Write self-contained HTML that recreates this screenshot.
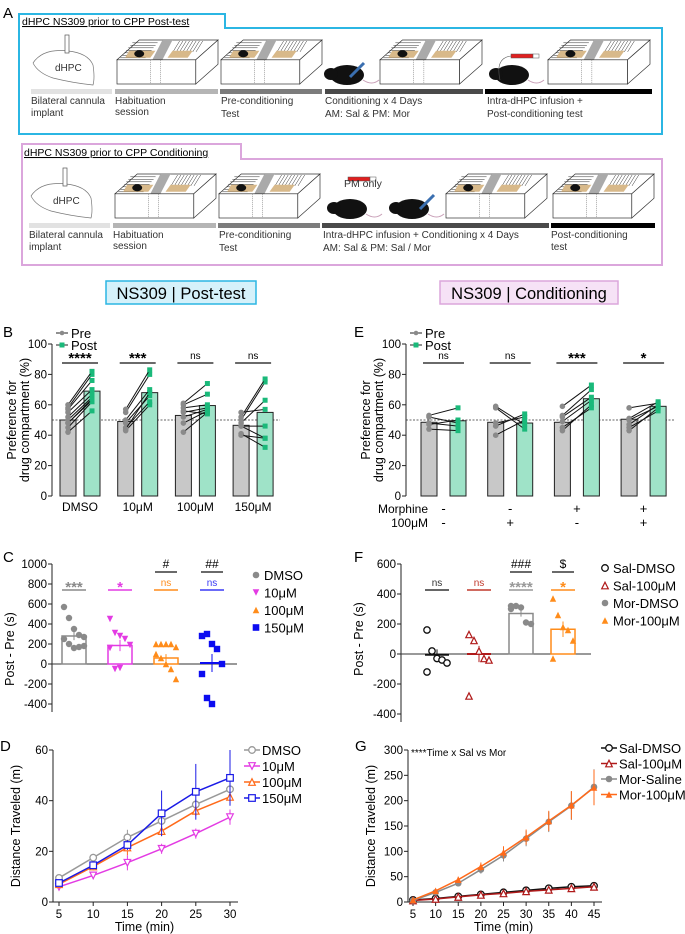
<!DOCTYPE html>
<html><head><meta charset="utf-8"><style>
html,body{margin:0;padding:0;background:#fff;}
svg{display:block;font-family:"Liberation Sans",Arial,sans-serif;}
</style></head><body>
<svg id="fig" width="685" height="934" viewBox="0 0 685 934" xmlns="http://www.w3.org/2000/svg">
<g>
<text x="3" y="18" font-size="15">A</text>
<path d="M19,28 V14 H225 V28 H662 V134 H19 Z" fill="none" stroke="#2bb6e3" stroke-width="2"/>
<text x="22" y="25" font-size="10.5" text-decoration="underline">dHPC NS309 prior to CPP Post-test</text>
<path d="M22,159 V144 H241 V159 H662 V265 H22 Z" fill="none" stroke="#dba6dc" stroke-width="2"/>
<text x="24" y="156" font-size="10.5" text-decoration="underline">dHPC NS309 prior to CPP Conditioning</text>
<g id="schem"></g>
<g font-size="10" fill="#333">
<text x="31" y="104">Bilateral cannula</text><text x="31" y="116">implant</text>
<text x="115" y="104">Habituation</text><text x="115" y="115">session</text>
<text x="221" y="104">Pre-conditioning</text><text x="221" y="117">Test</text>
<text x="325" y="104">Conditioning x 4 Days</text><text x="325" y="117">AM: Sal &amp; PM: Mor</text>
<text x="487" y="104">Intra-dHPC infusion +</text><text x="487" y="117">Post-conditioning test</text>
<text x="29" y="238">Bilateral cannula</text><text x="29" y="250">implant</text>
<text x="113" y="238">Habituation</text><text x="113" y="249">session</text>
<text x="219" y="238">Pre-conditioning</text><text x="219" y="251">Test</text>
<text x="323" y="238">Intra-dHPC infusion + Conditioning x 4 Days</text><text x="323" y="251">AM: Sal &amp; PM: Sal / Mor</text>
<text x="551" y="238">Post-conditioning</text><text x="551" y="250">test</text>
<text x="344" y="187" font-size="10.5">PM only</text>
</g>
</g>
<rect x="106" y="281" width="150" height="23" fill="#d5f1fa" stroke="#2bb6e3" stroke-width="1.5"/>
<text x="181" y="299" font-size="16.5" text-anchor="middle">NS309 | Post-test</text>
<rect x="440" y="281" width="178" height="23" fill="#f6e2f6" stroke="#dba6dc" stroke-width="1.5"/>
<text x="529" y="299" font-size="16.5" text-anchor="middle">NS309 | Conditioning</text>

<g id="charts"></g>
</svg>
<script>
const NS='http://www.w3.org/2000/svg';
function mk(tag,attrs,parent){const e=document.createElementNS(NS,tag);for(const k in attrs)e.setAttribute(k,attrs[k]);(parent||document.getElementById('charts')).appendChild(e);return e;}
function txt(x,y,s,size,anchor,parent,extra){const e=mk('text',Object.assign({x:x,y:y,'font-size':size,'text-anchor':anchor||'start'},extra||{}),parent);e.textContent=s;return e;}

/* ---------- Schematic ---------- */
const sch=document.getElementById('schem');
function bar(x1,x2,y,c){const e=mk('rect',{x:x1,y:y,width:x2-x1,height:5,fill:c},sch);

}
[[31,112,'#e2e2e2'],[115,218,'#b5b5b5'],[220,322,'#7c7c7c'],[325,483,'#4a4a4a'],[485,652,'#000']].forEach(b=>bar(b[0],b[1],89,b[2]));
[[29,110,'#e2e2e2'],[113,216,'#b5b5b5'],[218,320,'#7c7c7c'],[322,549,'#4a4a4a'],[551,655,'#000']].forEach(b=>bar(b[0],b[1],223,b[2]));
function cage(x,y,w,h,mouse){const g=mk('g',{},sch);


const d=h*0.45,s=w*0.22;
mk('polygon',{points:`${x},${y+d} ${x+s},${y} ${x+w},${y} ${x+w-s},${y+d}`,fill:'#fff',stroke:'#333','stroke-width':0.7},g);
for(let i=0;i<7;i++){mk('line',{x1:x+s*0.15+i*2,y1:y+d-2-i*2.5,x2:x+s*0.15+i*2+w*0.25,y2:y+d-2-i*2.5,stroke:'#333','stroke-width':0.5},g);}
for(let i=0;i<8;i++){const xx=x+w*0.62+i*3.3;mk('line',{x1:xx,y1:y+1,x2:xx-s*0.3,y2:y+d*0.6,stroke:'#333','stroke-width':0.5},g);}
mk('polygon',{points:`${x+w*0.45},${y} ${x+w*0.55},${y} ${x+w*0.45},${y+d} ${x+w*0.35},${y+d}`,fill:'#aaa'},g);
mk('polygon',{points:`${x+w*0.08},${y+d-2} ${x+w*0.12},${y+d-9} ${x+w*0.38},${y+d-9} ${x+w*0.33},${y+d-2}`,fill:'#d8b98a'},g);
mk('polygon',{points:`${x+w*0.5},${y+d-2} ${x+w*0.55},${y+d-9} ${x+w*0.75},${y+d-9} ${x+w*0.7},${y+d-2}`,fill:'#d8b98a'},g);
mk('rect',{x:x,y:y+d,width:w-s,height:h-d,fill:'#fff',stroke:'#333','stroke-width':0.7},g);
mk('polygon',{points:`${x+w-s},${y+d} ${x+w},${y} ${x+w},${y+h-d} ${x+w-s},${y+h}`,fill:'#fff',stroke:'#333','stroke-width':0.7},g);
mk('line',{x1:x+w*0.33,y1:y+d,x2:x+w*0.33,y2:y+h,stroke:'#555','stroke-width':0.5,'stroke-dasharray':'1,1'},g);
mk('line',{x1:x+w*0.43,y1:y+d,x2:x+w*0.43,y2:y+h,stroke:'#555','stroke-width':0.5,'stroke-dasharray':'1,1'},g);
if(mouse)mk('ellipse',{cx:x+w*0.22,cy:y+d-6,rx:5,ry:3.5,fill:'#111'},g);}
cage(117,40,101,44,true);cage(221,40,101,44,true);cage(380,40,102,44,true);cage(548,40,102,44,true);
cage(115,174,101,44,true);cage(219,174,101,44,true);cage(446,174,101,44,true);cage(553,174,101,44,true);
function brain(x,y){const g=mk('g',{},sch);


mk('path',{d:`M${x},${y+20} Q${x+10},${y+5} ${x+35},${y+8} Q${x+55},${y+10} ${x+60},${y+22} Q${x+62},${y+35} ${x+60},${y+42} Q${x+40},${y+40} ${x+20},${y+35} Q${x+5},${y+30} ${x},${y+20}`,fill:'none',stroke:'#777','stroke-width':0.7},g);
mk('rect',{x:x+32,y:y-8,width:4,height:18,fill:'#fff',stroke:'#555','stroke-width':0.7},g);
txt(x+22,y+28,'dHPC',10,'start',g,{fill:'#333'});}
brain(33,43);brain(31,176);
function mouse(x,y){const g=mk('g',{},sch);


mk('ellipse',{cx:x+20,cy:y+13,rx:17,ry:10,fill:'#111'},g);
mk('ellipse',{cx:x+4,cy:y+12,rx:7,ry:6,fill:'#111'},g);
mk('path',{d:`M${x+36},${y+18} Q${x+45},${y+24} ${x+52},${y+18}`,fill:'none',stroke:'#c9a0b8','stroke-width':1},g);}
mouse(327,62);mouse(492,62);mouse(330,196);mouse(392,196);
function syringe(x,y,red){const g=mk('g',{},sch);


if(red){mk('rect',{x:x,y:y,width:22,height:4,fill:'#e02020',stroke:'#555','stroke-width':0.5},g);mk('rect',{x:x+22,y:y,width:6,height:4,fill:'#fff',stroke:'#555','stroke-width':0.5},g);}
else{mk('line',{x1:x,y1:y+14,x2:x+14,y2:y,stroke:'#3a6fb0','stroke-width':3},g);}}
syringe(511,54,true);syringe(350,63,false);syringe(348,177,true);syringe(420,195,false);
mk('path',{d:'M511,56 Q495,58 500,80',fill:'none',stroke:'#555','stroke-width':0.6},sch);

/* ---------- Panel B data ---------- */
const bCats=['DMSO','10μM','100μM','150μM'];
const bPre=[50,49,53,46.5];
const bPost=[69,68,59.5,55];
const bPairs=[
 [[42,56],[45,62],[48,63],[50,65],[52,67],[55,70],[57,76],[58,80],[60,82],[48,64]],
 [[43,60],[45,62],[48,66],[55,80],[57,83],[44,68],[50,70]],
 [[42,55],[48,56],[52,57],[55,58],[58,60],[60,67],[61,74],[56,54]],
 [[40,38],[41,32],[46,46],[48,63],[50,75],[52,77],[55,57],[46,38]]];
const bSig=['****','***','ns','ns'];
/* ---------- Panel E data ---------- */
const eMorphine=['-','-','+','+'];
const eDrug=['-','+','-','+'];
const ePre=[48.5,48.5,48.5,50.5];
const ePost=[49.5,48,64,59];
const ePairs=[
 [[44,43],[47,50],[52,48],[53,58],[48,46]],
 [[40,50],[46,54],[58,44],[59,47],[48,52]],
 [[43,60],[45,58],[49,63],[52,65],[59,73],[53,70]],
 [[43,58],[47,60],[51,62],[58,61],[50,59],[45,56]]];
const eSig=['ns','ns','***','*'];
const prefTicks=[0,20,40,60,80,100];

function prefChart(o){
 const y=v=>496-v*1.52;
 const g=mk('g',{});
 
 
 txt(o.lx,337,o.label,15,'start',g);
 mk('line',{x1:o.ax,y1:y(100),x2:o.ax,y2:y(0),stroke:'#222','stroke-width':1},g);
 prefTicks.forEach(t=>{mk('line',{x1:o.ax-4,y1:y(t),x2:o.ax,y2:y(t),stroke:'#222'},g);
  const tl=txt(o.ax-5,y(t)+4,String(t),11.5,'end',g);
  
  });
 const yt=mk('text',{transform:`translate(${o.ax-36},420) rotate(-90)`,'font-size':12.5,'text-anchor':'middle'},g);
 
 
 yt.innerHTML='<tspan x="0" dy="0">Preference for</tspan><tspan x="0" dy="13">drug compartment (%)</tspan>';
 mk('line',{x1:o.ax,y1:y(50),x2:o.ax+o.span,y2:y(50),stroke:'#333','stroke-dasharray':'2,1.5','stroke-width':0.8},g);
 o.pre.forEach((v,i)=>{
  const px=o.x0+i*o.step, qx=px+o.gap;
  const b1=mk('rect',{x:px,y:y(v),width:16,height:y(0)-y(v),fill:'#c8c8c8',stroke:'#222','stroke-width':1},g);
  
  
  const b2=mk('rect',{x:qx,y:y(o.post[i]),width:16,height:y(0)-y(o.post[i]),fill:'#9fe3c8',stroke:'#222','stroke-width':1},g);
  
  
  o.pairs[i].forEach(p=>{
   mk('line',{x1:px+8,y1:y(p[0]),x2:qx+8,y2:y(p[1]),stroke:'#111','stroke-width':1},g);
   const c=mk('circle',{cx:px+8,cy:y(p[0]),r:2.8,fill:'#8a8a8a'},g);
   
   
   const s=mk('rect',{x:qx+5.5,y:y(p[1])-2.5,width:5,height:5,fill:'#1ab97a'},g);
   
   });
  mk('line',{x1:px+2,y1:363,x2:qx+14,y2:363,stroke:'#111','stroke-width':1.3},g);
  const sg=txt((px+qx+16)/2,o.sig[i]==='ns'?359:363,o.sig[i],o.sig[i]==='ns'?10:15,'middle',g,{'font-weight':'bold'});
  if(o.sig[i]==='ns')sg.setAttribute('font-weight','normal');
  
  
  if(o.cats){const xl=txt((px+qx+16)/2,511,o.cats[i],12,'middle',g);
   
   }
  else{const m=txt((px+qx+16)/2,513,o.m1[i],13,'middle',g);
   
   
   const d=txt((px+qx+16)/2,527,o.m2[i],13,'middle',g);
   
   }
 });
 const lg=mk('g',{},g);
 
 
 mk('line',{x1:o.ax+4,y1:333,x2:o.ax+16,y2:333,stroke:'#222'},lg);mk('circle',{cx:o.ax+10,cy:333,r:2.3,fill:'#8a8a8a'},lg);
 txt(o.ax+19,338,'Pre',13,'start',lg);
 mk('line',{x1:o.ax+4,y1:345,x2:o.ax+16,y2:345,stroke:'#222'},lg);mk('rect',{x:o.ax+7.5,y:342.5,width:5,height:5,fill:'#1ab97a'},lg);
 txt(o.ax+19,350,'Post',13,'start',lg);
}
prefChart({name:'panel-b-chart',label:'B',lx:3,ax:52,span:228,x0:60,step:57.7,gap:24,pre:bPre,post:bPost,pairs:bPairs,sig:bSig,cats:bCats});
prefChart({name:'panel-e-chart',label:'E',lx:354,ax:406,span:269,x0:421,step:66.7,gap:29,pre:ePre,post:ePost,pairs:ePairs,sig:eSig,m1:eMorphine,m2:eDrug});
{const g=document.getElementById('charts');txt(428,513,'Morphine',12,'end',g);txt(428,527,'100μM',12,'end',g);}

/* ---------- Panel C data ---------- */
const cGroups=['DMSO','10μM','100μM','150μM'];
const cMeans=[280,185,60,10];
const cPoints=[[570,460,350,290,270,250,200,160,170,180],[450,310,280,250,190,160,-50,-40],[200,200,200,200,170,100,60,0,-50,-150],[280,300,200,150,0,-100,-340,-400]];
const cSigTop=['','','#','##'];
const cSigBot=['***','*','ns','ns'];
const cTicks=[1000,800,600,400,200,0,-200,-400];
/* ---------- Panel F data ---------- */
const fGroups=['Sal-DMSO','Sal-100μM','Mor-DMSO','Mor-100μM'];
const fMeans=[-5,0,270,165];
const fPoints=[[160,20,-30,-40,-60,-120],[130,90,20,-30,-40,-280],[320,320,310,210,200,300],[370,260,180,160,90,-30]];
const fSigTop=['','','###','$'];
const fSigBot=['ns','ns','****','*'];
const fTicks=[600,400,200,0,-200,-400];

function marker(g,type,x,y,c,sz){let e;
 if(type==='circle')e=mk('circle',{cx:x,cy:y,r:sz,fill:c},g);
 else if(type==='ocircle')e=mk('circle',{cx:x,cy:y,r:sz,fill:'#fff',stroke:c,'stroke-width':1.3},g);
 else if(type==='down')e=mk('polygon',{points:`${x-sz},${y-sz} ${x+sz},${y-sz} ${x},${y+sz}`,fill:c},g);
 else if(type==='odown')e=mk('polygon',{points:`${x-sz},${y-sz} ${x+sz},${y-sz} ${x},${y+sz}`,fill:'#fff',stroke:c,'stroke-width':1.2},g);
 else if(type==='up')e=mk('polygon',{points:`${x-sz},${y+sz} ${x+sz},${y+sz} ${x},${y-sz}`,fill:c},g);
 else if(type==='oup')e=mk('polygon',{points:`${x-sz},${y+sz} ${x+sz},${y+sz} ${x},${y-sz}`,fill:'#fff',stroke:c,'stroke-width':1.2},g);
 else if(type==='square')e=mk('rect',{x:x-sz,y:y-sz,width:2*sz,height:2*sz,fill:c},g);
 else e=mk('rect',{x:x-sz,y:y-sz,width:2*sz,height:2*sz,fill:'#fff',stroke:c,'stroke-width':1.2},g);
 return e;}

function scatterChart(o){
 const y=v=>o.y0-v*o.k;
 const g=mk('g',{});
 
 
 txt(o.lx,o.ly,o.label,15,'start',g);
 mk('line',{x1:o.ax,y1:y(o.ticks[0]),x2:o.ax,y2:y(o.ticks[o.ticks.length-1])+8,stroke:'#222'},g);
 o.ticks.forEach(t=>{mk('line',{x1:o.ax-4,y1:y(t),x2:o.ax,y2:y(t),stroke:'#222'},g);
  const tl=txt(o.ax-5,y(t)+4,String(t),11.5,'end',g);
  
  });
 const yt=txt(0,0,'Post - Pre (s)',12.5,'middle',g,{transform:`translate(${o.ax-38},${y(0)-15}) rotate(-90)`});
 
 
 mk('line',{x1:o.ax,y1:y(0),x2:o.ax+o.span,y2:y(0),stroke:'#333'},g);
 o.means.forEach((m,i)=>{
  const cx=o.x0+i*o.step, c=o.colors[i];
  if(o.bars[i]){const b=mk('rect',{x:cx-12,y:Math.min(y(m),y(0)),width:24,height:Math.abs(y(0)-y(m)),fill:'none',stroke:c,'stroke-width':1.5},g);
   
   }
  else{mk('line',{x1:cx-12,y1:y(m),x2:cx+12,y2:y(m),stroke:c,'stroke-width':2},g);}
  const pts=o.points[i];
  const sd=Math.sqrt(pts.reduce((a,p)=>a+(p-m)*(p-m),0)/pts.length)/Math.sqrt(pts.length);
  mk('line',{x1:cx,y1:y(m+sd),x2:cx,y2:y(m-sd),stroke:c,'stroke-width':1},g);
  pts.forEach((p,j)=>{const off=((j%5)-2)*5;
   const e=marker(g,o.markers[i],cx+off,y(p),c,3.2);
   
   });
  if(o.sigTop[i]){mk('line',{x1:cx-11,y1:572,x2:cx+11,y2:572,stroke:'#111','stroke-width':1.3},g);
   const s=txt(cx,568,o.sigTop[i],12,'middle',g);
   
   }
  mk('line',{x1:cx-12,y1:590,x2:cx+12,y2:590,stroke:o.sigColors[i],'stroke-width':1.5},g);
  const big=o.sigBot[i]!=='ns';
  const s2=txt(cx,big?592:586,o.sigBot[i],big?15:10,'middle',g,{fill:o.sigColors[i],'font-weight':big?'bold':'normal'});
  
  
 });
 o.groups.forEach((n,i)=>{
  const ly=o.legY+i*17.5;
  const e=marker(g,o.markers[i],o.legX,ly,o.colors[i],3.3);
  
  
  const t=txt(o.legX+8,ly+5,n,13,'start',g);
  
  });
}
scatterChart({name:'panel-c-chart',label:'C',lx:3,ly:562,ax:52,span:185,y0:664,k:0.1,ticks:cTicks,x0:74,step:46,
 means:cMeans,points:cPoints,groups:cGroups,colors:['#8a8a8a','#e33be3','#ff8c1a','#0c0cf0'],markers:['circle','down','up','square'],
 bars:[true,true,true,false],sigTop:cSigTop,sigBot:cSigBot,sigColors:['#8a8a8a','#e33be3','#ff8c1a','#3a3af5'],legX:256,legY:575});
scatterChart({name:'panel-f-chart',label:'F',lx:354,ly:562,ax:401,span:190,y0:654,k:0.15,ticks:fTicks,x0:437,step:42,
 means:fMeans,points:fPoints,groups:fGroups,colors:['#111','#b01a1a','#8a8a8a','#ff8c1a'],markers:['ocircle','oup','circle','up'],
 bars:[false,false,true,true],sigTop:fSigTop,sigBot:fSigBot,sigColors:['#333','#c0392b','#999','#ff8c1a'],legX:605,legY:568});

/* ---------- Panel D data ---------- */
const dTimes=[5,10,15,20,25,30];
const dSeriesNames=['DMSO','10μM','100μM','150μM'];
const dDMSO=[9.5,17.5,25.5,32,38.5,44.5];
const d10=[6,10.5,15.5,21,27,33.5];
const d100=[7,14,21.5,28,36,41.5];
const d150=[7.5,14.5,22.5,35,43.5,49];
const dErr150=[1,1.5,2,9,11,11];
const dErrOther=[1,1.5,3,2,2,3];
const dYTicks=[0,20,40,60];
/* ---------- Panel G data ---------- */
const gTimes=[5,10,15,20,25,30,35,40,45];
const gSeriesNames=['Sal-DMSO','Sal-100μM','Mor-Saline','Mor-100μM'];
const gSalDMSO=[4,7,11,15,19,23,27,30,32];
const gSal100=[3,6,10,14,17,21,24,27,30];
const gMorSal=[3,19,37,64,92,125,158,190,227];
const gMor100=[4,22,44,70,98,128,160,191,226];
const gErr=[2,4,6,8,12,15,20,28,35];
const gYTicks=[0,50,100,150,200,250,300];

function lineChart(o){
 const g=mk('g',{});
 
 
 const x=t=>o.xa+(t-o.tmin)/(o.tmax-o.tmin)*(o.xb-o.xa);
 const y=v=>902-v/o.ymax*152;
 txt(o.lx,751,o.label,15,'start',g);
 mk('line',{x1:o.ax,y1:750,x2:o.ax,y2:902,stroke:'#222'},g);
 mk('line',{x1:o.ax,y1:902,x2:o.xb+8,y2:902,stroke:'#222'},g);
 o.yticks.forEach(t=>{mk('line',{x1:o.ax-4,y1:y(t),x2:o.ax,y2:y(t),stroke:'#222'},g);
  const tl=txt(o.ax-5,y(t)+4,String(t),11.5,'end',g);
  
  });
 o.times.forEach(t=>{mk('line',{x1:x(t),y1:902,x2:x(t),y2:906,stroke:'#222'},g);
  const tl=txt(x(t),918,String(t),11.5,'middle',g);
  
  });
 const xt=txt((o.xa+o.xb)/2,931,'Time (min)',12.5,'middle',g);
 
 
 const yt=txt(0,0,'Distance Traveled (m)',12.5,'middle',g,{transform:`translate(${o.ax-33},826) rotate(-90)`});
 
 
 o.series.forEach((s,i)=>{
  const c=o.colors[i];
  o.times.forEach((t,j)=>{const e=o.errs[i][j];mk('line',{x1:x(t),y1:y(s[j]+e),x2:x(t),y2:y(Math.max(0,s[j]-e)),stroke:c,'stroke-width':1},g);});
  const pl=mk('polyline',{points:o.times.map((t,j)=>x(t)+','+y(s[j])).join(' '),fill:'none',stroke:c,'stroke-width':1.5},g);
  
  
  o.times.forEach((t,j)=>{const m=marker(g,o.markers[i],x(t),y(s[j]),c,3.3);
   
   });
  const ly=o.legY+i*o.legStep;
  mk('line',{x1:o.legX-8,y1:ly,x2:o.legX+8,y2:ly,stroke:c,'stroke-width':1.5},g);
  const lm=marker(g,o.markers[i],o.legX,ly,c,3.3);
  
  
  const lt=txt(o.legX+10,ly+5,o.names[i],13,'start',g);
  
  
 });
}
lineChart({name:'panel-d-chart',label:'D',lx:0,ax:53,xa:59,xb:230,tmin:5,tmax:30,ymax:60,yticks:dYTicks,times:dTimes,
 series:[dDMSO,d10,d100,d150],errs:[dErrOther,dErrOther,dErrOther,dErr150],names:dSeriesNames,
 colors:['#999','#e33be3','#ff6a1a','#1a1ae6'],markers:['ocircle','odown','oup','osq'],legX:252,legY:750,legStep:16});
lineChart({name:'panel-g-chart',label:'G',lx:355,ax:408,xa:413,xb:594,tmin:5,tmax:45,ymax:300,yticks:gYTicks,times:gTimes,
 series:[gSalDMSO,gSal100,gMorSal,gMor100],errs:[gErr.map(v=>v*0.1),gErr.map(v=>v*0.1),gErr,gErr],names:gSeriesNames,
 colors:['#111','#b01a1a','#8a8a8a','#ff6a1a'],markers:['ocircle','oup','circle','up'],legX:609,legY:748,legStep:15.5});
{const a=txt(411,756,'****Time x Sal vs Mor',10,'start');
 
 }
</script>
</body></html>
